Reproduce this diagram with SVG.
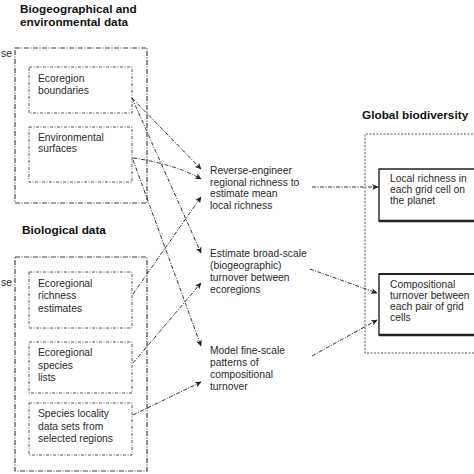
<svg xmlns="http://www.w3.org/2000/svg" width="474" height="474" viewBox="0 0 474 474">
<style>
text{font-family:"Liberation Sans",Arial,sans-serif;fill:#2a2a2a;font-size:10.3px}
.t{font-weight:bold;font-size:11.8px;fill:#111}
.ob{fill:none;stroke:#444;stroke-width:1.2;stroke-dasharray:5 1.5 1 1.5}
.ib{fill:none;stroke:#555;stroke-width:1;stroke-dasharray:3 1.5 1 1.5}
.rb{fill:none;stroke:#222;stroke-width:1.4}
.rob{fill:none;stroke:#555;stroke-width:1;stroke-dasharray:2 1.5}
.c{fill:none;stroke:#333;stroke-width:1;stroke-dasharray:4 1.5 1 1.5;marker-end:url(#ah)}
</style>
<defs>
<marker id="ah" viewBox="0 0 10 10" refX="9" refY="5" markerWidth="6.5" markerHeight="6.5" orient="auto" markerUnits="userSpaceOnUse">
<path d="M0,0.5 L10,5 L0,9.5 L2.5,5 z" fill="#222"/>
</marker>
</defs>
<rect width="474" height="474" fill="#fff"/>

<g id="titles">
<text class="t" x="20" y="13">Biogeographical and</text>
<text class="t" x="20" y="26">environmental data</text>
<text class="t" x="22" y="234">Biological data</text>
<text class="t" x="362" y="119">Global biodiversity</text>
<text x="12" y="57" text-anchor="end">se</text>
<text x="12" y="286" text-anchor="end">se</text>
</g>

<g id="group-biogeo">
<rect class="ob" x="15" y="48" width="132" height="155"/>
</g>
<g id="ecoregion-boundaries">
<rect class="ib" x="29" y="67" width="103" height="46"/>
<text x="38" y="81.5">Ecoregion</text>
<text x="38" y="93.5">boundaries</text>
</g>
<g id="environmental-surfaces">
<rect class="ib" x="29" y="127" width="103" height="55"/>
<text x="38" y="140.5">Environmental</text>
<text x="38" y="152">surfaces</text>
</g>

<g id="group-biological">
<rect class="ob" x="15" y="257" width="132" height="214"/>
</g>
<g id="ecoregional-richness">
<rect class="ib" x="29" y="272" width="103" height="56"/>
<text x="38" y="286.5">Ecoregional</text>
<text x="38" y="299">richness</text>
<text x="38" y="311.5">estimates</text>
</g>
<g id="ecoregional-species">
<rect class="ib" x="29" y="342" width="103" height="51"/>
<text x="38" y="356">Ecoregional</text>
<text x="38" y="368.5">species</text>
<text x="38" y="381">lists</text>
</g>
<g id="species-locality">
<rect class="ib" x="29" y="403" width="103" height="52"/>
<text x="38" y="417">Species locality</text>
<text x="38" y="429.5">data sets from</text>
<text x="38" y="442">selected regions</text>
</g>

<g id="reverse-engineer">
<text x="210" y="173.5">Reverse-engineer</text>
<text x="210" y="185.5">regional richness to</text>
<text x="210" y="197">estimate mean</text>
<text x="210" y="208.5">local richness</text>
</g>
<g id="estimate-broad">
<text x="210" y="256.5">Estimate broad-scale</text>
<text x="210" y="268.5">(biogeographic)</text>
<text x="210" y="280.5">turnover between</text>
<text x="210" y="292.5">ecoregions</text>
</g>
<g id="model-fine">
<text x="210" y="353.5">Model fine-scale</text>
<text x="210" y="365.5">patterns of</text>
<text x="210" y="378">compositional</text>
<text x="210" y="390">turnover</text>
</g>

<g id="group-global">
<path class="rob" d="M480,134 H365 V353 H480"/>
</g>
<g id="local-richness">
<path class="rb" d="M480,169 H379 V221 H480"/>
<line x1="379" y1="221" x2="480" y2="221" stroke="#222" stroke-width="2.4"/>
<text x="390" y="182">Local richness in</text>
<text x="390" y="193">each grid cell on</text>
<text x="390" y="204">the planet</text>
</g>
<g id="compositional-turnover">
<path class="rb" d="M480,274 H379 V335 H480"/>
<line x1="379" y1="335" x2="480" y2="335" stroke="#222" stroke-width="2.4"/>
<line x1="379" y1="274" x2="480" y2="274" stroke="#222" stroke-width="2"/>
<text x="390" y="288">Compositional</text>
<text x="390" y="299">turnover between</text>
<text x="390" y="310">each pair of grid</text>
<text x="390" y="321">cells</text>
</g>

<g id="connectors">
<line class="c" x1="132" y1="98" x2="201" y2="169"/>
<line class="c" x1="132" y1="98" x2="201" y2="253"/>
<path class="c" d="M133,158 Q175,164 201,179"/>
<line class="c" x1="133" y1="160" x2="201" y2="346"/>
<line class="c" x1="133" y1="294" x2="201" y2="197"/>
<line class="c" x1="133" y1="363" x2="201" y2="283"/>
<line class="c" x1="133" y1="415" x2="201" y2="382"/>
<line class="c" x1="312" y1="187" x2="378" y2="187"/>
<line class="c" x1="310" y1="269" x2="377" y2="293"/>
<line class="c" x1="312" y1="356" x2="377" y2="320"/>
</g>
</svg>
